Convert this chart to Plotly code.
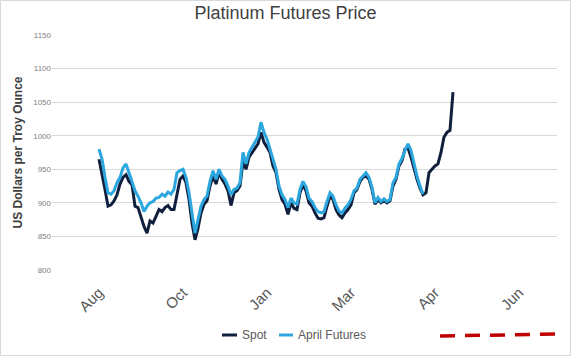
import plotly.graph_objects as go

# ---- data ----
spot = [965, 945, 920, 895, 897, 903, 912, 928, 938, 942, 932, 927, 895, 893, 878, 865,
        855, 873, 870, 880, 890, 887, 893, 896, 890, 890, 910, 935, 940, 930, 905, 870,
        845, 862, 885, 898, 903, 925, 940, 928, 945, 935, 928, 918, 896, 915, 918, 925,
        962, 950, 968, 975, 980, 988, 1005, 990, 983, 975, 955, 945, 920, 905, 898, 883,
        900, 892, 890, 915, 927, 918, 900, 895, 885, 877, 876, 878, 895, 910, 905, 890,
        882, 878, 885, 890, 897, 915, 920, 932, 938, 940, 935, 920, 898, 905, 900, 903,
        900, 903, 925, 935, 955, 963, 980, 982, 968, 950, 935, 922, 912, 915, 945, 950,
        955, 958, 975, 998, 1005, 1008, 1065]

futures = [980, 965, 938, 915, 913, 918, 930, 938, 952, 958, 945, 932, 918, 910, 900, 887,
           895, 900, 902, 907, 908, 913, 910, 916, 913, 920, 945, 948, 950, 938, 915, 885,
           855, 875, 895, 905, 910, 932, 948, 935, 950, 940, 935, 925, 912, 920, 922, 930,
           975, 958, 975, 983, 990, 998, 1020, 1005, 995, 980, 965, 950, 925, 912, 905, 893,
           907, 900, 898, 920, 932, 924, 907, 902, 893, 887, 885, 887, 902, 915, 910, 897,
           888, 885, 892, 897, 905, 918, 922, 935, 940, 945, 938, 923, 900, 908, 902, 906,
           902, 905, 930, 938, 958, 966, 978, 988, 978, 958, 940, 925, 913]

series_names = ["Spot", "April Futures"]
series_colors = ["#0f1f3d", "#2ba6de"]
tick_labels = ["Aug", "Oct", "Jan", "Mar", "Apr", "Jun"]
tick_positions = [0, 28, 56, 84, 112, 140]
y_ticks = [800, 850, 900, 950, 1000, 1050, 1100, 1150]

fig = go.Figure()
for name, vals, col in zip(series_names, [spot, futures], series_colors):
    fig.add_trace(go.Scatter(x=list(range(len(vals))), y=vals, mode="lines", name=name,
                             line=dict(color=col, width=3), showlegend=False))

W, H = 571, 356
L, R, T, B = 52, 14, 35, 86
PW, PH = W - L - R, H - T - B


def px(xp):
    return (xp - L) / PW


def py(yp):
    return (H - B - yp) / PH


fig.update_layout(
    width=W, height=H,
    margin=dict(l=L, r=R, t=T, b=B, autoexpand=False),
    paper_bgcolor="white", plot_bgcolor="white",
    font=dict(family="Liberation Sans, Arial, sans-serif", color="#595959"),
    title=dict(text="Platinum Futures Price", x=0.5, xanchor="center",
               y=1 - 13 / H, yanchor="middle", yref="container",
               font=dict(size=18, color="#404040")),
    xaxis=dict(range=[-15.67, 152.67], tickmode="array", tickvals=tick_positions,
               ticktext=tick_labels, tickangle=-45, showgrid=False, zeroline=False,
               showline=False, ticks="", ticklabelstandoff=10, automargin=False,
               tickfont=dict(size=15, color="#595959")),
    yaxis=dict(range=[800, 1150], tickmode="array", tickvals=y_ticks,
               showgrid=True, gridcolor="#d9d9d9", gridwidth=1, zeroline=False,
               showline=False, ticks="", automargin=False,
               tickfont=dict(size=8, color="#7f7f7f"),
               title=dict(text="<b>US Dollars per Troy Ounce</b>", standoff=8,
                          font=dict(size=12, color="#404040"))),
    showlegend=False,
)

# manual legend (line samples + real text)
legend_items = [(222, 237, 240), (279, 293, 296)]
for (x0, x1, xt), name, col in zip(legend_items, series_names, series_colors):
    fig.add_shape(type="line", xref="paper", yref="paper", x0=px(x0), x1=px(x1),
                  y0=py(335), y1=py(335), line=dict(color=col, width=3))
    fig.add_annotation(xref="paper", yref="paper", x=px(xt), y=py(335), text=name,
                       showarrow=False, xanchor="left", yanchor="middle",
                       font=dict(size=12, color="#595959"))

# decorative red dashed line and frame
fig.add_shape(type="line", xref="paper", yref="paper",
              x0=px(440), x1=px(557), y0=py(336), y1=py(334),
              line=dict(color="#c00000", width=3.5, dash="15px,10px"))
fig.add_shape(type="rect", xref="paper", yref="paper",
              x0=px(0.5), x1=px(570.5), y0=py(355.5), y1=py(0.5),
              line=dict(color="#d9d9d9", width=1))

fig.write_html("out.html", config={"displayModeBar": False},
               post_script="document.body.style.margin='0';document.body.style.overflow='hidden';")
